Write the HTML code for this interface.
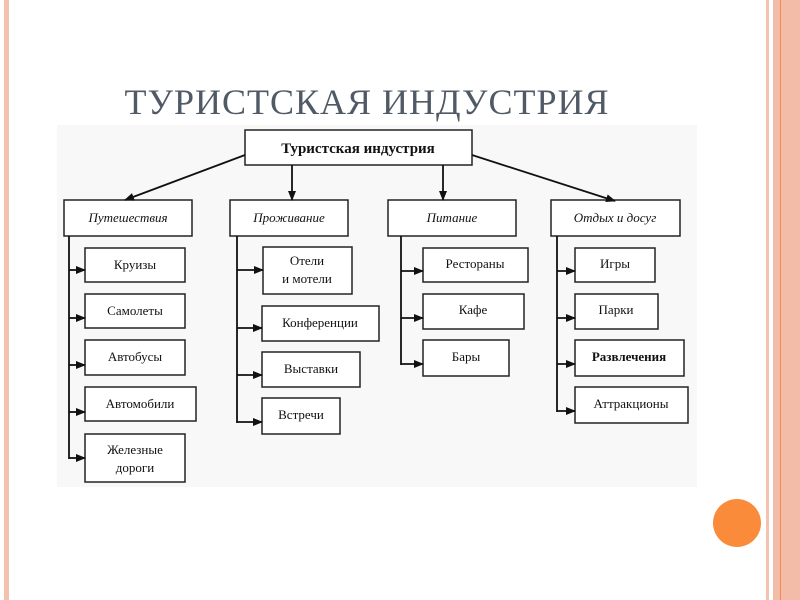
<!DOCTYPE html>
<html><head><meta charset="utf-8"><style>
html,body{margin:0;padding:0;background:#fff;}
svg{display:block;}
</style></head><body>
<svg width="800" height="600" viewBox="0 0 800 600" xmlns="http://www.w3.org/2000/svg">
<defs>
<marker id="ah" markerWidth="10" markerHeight="8" refX="9" refY="4" orient="auto" markerUnits="userSpaceOnUse">
<path d="M0,0 L10,4 L0,8 Z" fill="#111"/>
</marker>
</defs>
<rect x="0" y="0" width="800" height="600" fill="#fff"/>
<rect x="4" y="0" width="5" height="600" fill="#f6c2b0"/>
<rect x="766" y="0" width="3" height="600" fill="#f6c2b0"/>
<rect x="773" y="0" width="27" height="600" fill="#f3bca8"/>
<rect x="780" y="0" width="1" height="600" fill="#ee8a50"/>
<circle cx="737" cy="523" r="24" fill="#f98b3a"/>
<text x="367" y="114" text-anchor="middle" font-family="Liberation Serif, serif" font-size="36" fill="#505a66" letter-spacing="1">ТУРИСТСКАЯ ИНДУСТРИЯ</text>
<rect x="57" y="125" width="640" height="362" fill="#f8f8f8"/>
<g fill="#fff" stroke="#222" stroke-width="1.5">
<rect x="245" y="130" width="227" height="35"/>
<rect x="64" y="200" width="128" height="36"/>
<rect x="230" y="200" width="118" height="36"/>
<rect x="388" y="200" width="128" height="36"/>
<rect x="551" y="200" width="129" height="36"/>
<rect x="85" y="248" width="100" height="34"/>
<rect x="85" y="294" width="100" height="34"/>
<rect x="85" y="340" width="100" height="35"/>
<rect x="85" y="387" width="111" height="34"/>
<rect x="85" y="434" width="100" height="48"/>
<rect x="263" y="247" width="89" height="47"/>
<rect x="262" y="306" width="117" height="35"/>
<rect x="262" y="352" width="98" height="35"/>
<rect x="262" y="398" width="78" height="36"/>
<rect x="423" y="248" width="105" height="34"/>
<rect x="423" y="294" width="101" height="35"/>
<rect x="423" y="340" width="86" height="36"/>
<rect x="575" y="248" width="80" height="34"/>
<rect x="575" y="294" width="83" height="35"/>
<rect x="575" y="340" width="109" height="36"/>
<rect x="575" y="387" width="113" height="36"/>
</g>
<g stroke="#111" stroke-width="1.8" fill="none" marker-end="url(#ah)">
<line x1="245" y1="155" x2="125" y2="200"/>
<line x1="292" y1="165" x2="292" y2="200"/>
<line x1="443" y1="165" x2="443" y2="200"/>
<line x1="472" y1="155" x2="615" y2="201"/>
<line x1="69" y1="270" x2="85" y2="270"/>
<line x1="69" y1="318" x2="85" y2="318"/>
<line x1="69" y1="365" x2="85" y2="365"/>
<line x1="69" y1="412" x2="85" y2="412"/>
<line x1="69" y1="458" x2="85" y2="458"/>
<line x1="237" y1="270" x2="263" y2="270"/>
<line x1="237" y1="328" x2="262" y2="328"/>
<line x1="237" y1="375" x2="262" y2="375"/>
<line x1="237" y1="422" x2="262" y2="422"/>
<line x1="401" y1="271" x2="423" y2="271"/>
<line x1="401" y1="318" x2="423" y2="318"/>
<line x1="401" y1="364" x2="423" y2="364"/>
<line x1="557" y1="271" x2="575" y2="271"/>
<line x1="557" y1="318" x2="575" y2="318"/>
<line x1="557" y1="364" x2="575" y2="364"/>
<line x1="557" y1="411" x2="575" y2="411"/>
</g>
<g stroke="#111" stroke-width="1.8">
<line x1="69" y1="236" x2="69" y2="459"/>
<line x1="237" y1="236" x2="237" y2="423"/>
<line x1="401" y1="236" x2="401" y2="365"/>
<line x1="557" y1="236" x2="557" y2="412"/>
</g>
<g font-family="Liberation Serif, serif" fill="#111" text-anchor="middle">
<text x="358" y="153" font-size="15" font-weight="bold">Туристская индустрия</text>
<g font-style="italic" font-size="13">
<text x="128" y="222">Путешествия</text>
<text x="289" y="222">Проживание</text>
<text x="452" y="222">Питание</text>
<text x="615" y="222">Отдых и досуг</text>
</g>
<g font-size="13">
<text x="135" y="269">Круизы</text>
<text x="135" y="315">Самолеты</text>
<text x="135" y="361">Автобусы</text>
<text x="140" y="408">Автомобили</text>
<text x="135" y="454">Железные</text>
<text x="135" y="472">дороги</text>
<text x="307" y="265">Отели</text>
<text x="307" y="283">и мотели</text>
<text x="320" y="327">Конференции</text>
<text x="311" y="373">Выставки</text>
<text x="301" y="419">Встречи</text>
<text x="475" y="268">Рестораны</text>
<text x="473" y="314">Кафе</text>
<text x="466" y="361">Бары</text>
<text x="615" y="268">Игры</text>
<text x="616" y="314">Парки</text>
<text x="629" y="361" font-weight="bold">Развлечения</text>
<text x="631" y="408">Аттракционы</text>
</g>
</g>
</svg>
</body></html>
